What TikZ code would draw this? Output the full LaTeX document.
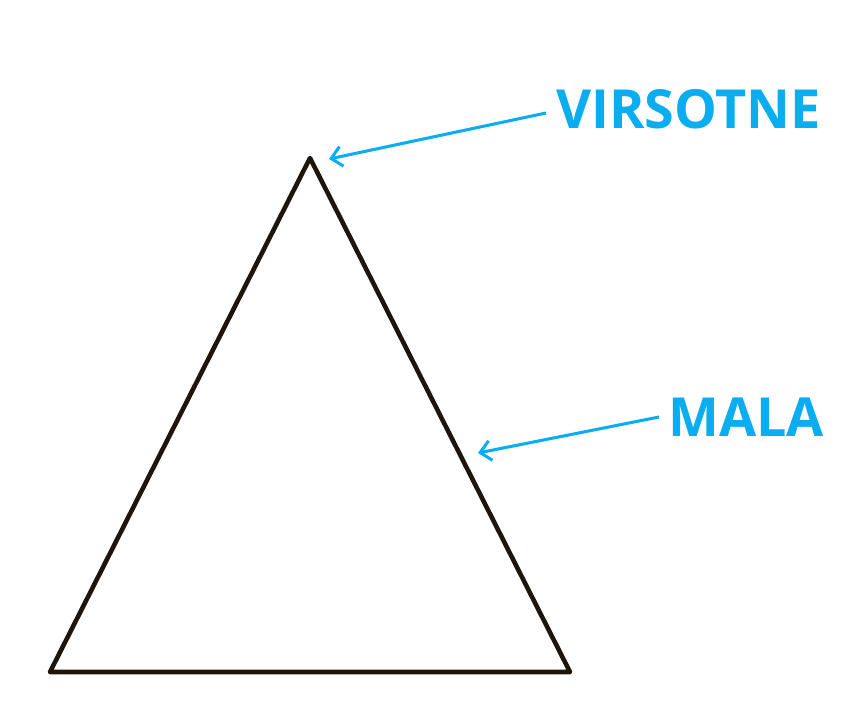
\documentclass[tikz,border=0pt]{standalone}
\usepackage{fontspec}
\setmainfont{Open Sans}
\usepackage{xcolor}
\usetikzlibrary{arrows.meta}
\definecolor{skyblue}{HTML}{0AADF0}
\definecolor{darkline}{HTML}{1E160C}
\tikzset{
	label/.style={text=skyblue,font=\bfseries\fontsize{46}{50}\selectfont,inner sep=0pt,anchor=west},
	pointer/.style={draw=skyblue,line width=2.6pt,-{Straight Barb[length=9pt,width=17pt,line width=2.6pt]}},
}
\begin{document}
\begin{tikzpicture}[x=0.03cm,y=-0.03cm]
	\useasboundingbox (0,0) rectangle (857,716);
	\coordinate (A) at (310,158);
	\coordinate (B) at (50,672);
	\coordinate (C) at (570,672);
	\draw[darkline,line width=3.9pt,line join=round] (A) -- (B) -- (C) -- cycle;
	\node[label] (V) at (556,109) {VIRSOTNE};
	\node[label] (M) at (668,417) {MALA};
	\coordinate (Vtip) at (329,159);
	\coordinate (Mtip) at (478,453);
	\draw[pointer] ([xshift=-0.3cm,yshift=-0.12cm]V.west) -- (Vtip);
	\draw[pointer] ([xshift=-0.27cm]M.west) -- (Mtip);
\end{tikzpicture}
\end{document}
